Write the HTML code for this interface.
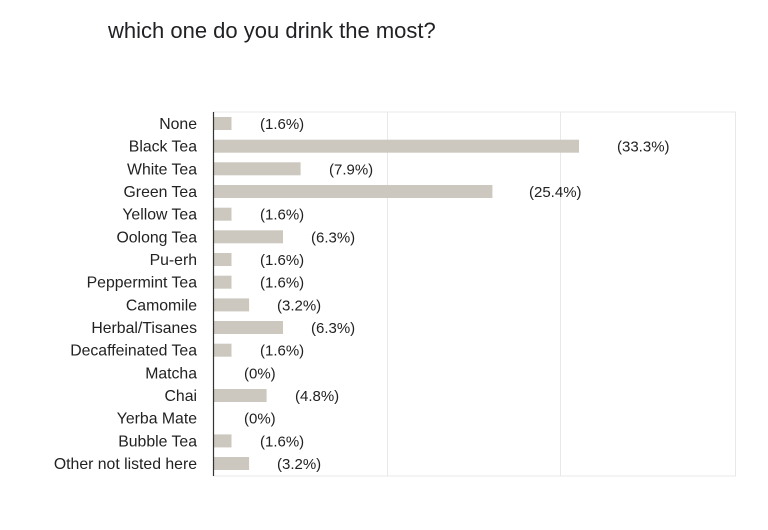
<!DOCTYPE html>
<html><head><meta charset="utf-8"><style>
body{margin:0;background:#fff;width:768px;height:525px;overflow:hidden}
</style></head><body>
<svg width="768" height="525" xmlns="http://www.w3.org/2000/svg" font-family="Liberation Sans, sans-serif">
<text x="108" y="38" font-size="22" fill="#202124">which one do you drink the most?</text>
<g stroke="#e8e8e8" stroke-width="1">
<line x1="387.5" y1="112" x2="387.5" y2="476"/>
<line x1="560.5" y1="112" x2="560.5" y2="476"/>
<line x1="735.5" y1="112" x2="735.5" y2="476"/>
<line x1="213" y1="112" x2="736" y2="112"/>
<line x1="213" y1="476" x2="736" y2="476"/>
</g>
<g fill="#ccc7bf">
<rect x="214" y="117" width="17.5" height="13"/>
<rect x="214" y="139.7" width="365" height="13"/>
<rect x="214" y="162.3" width="86.6" height="13"/>
<rect x="214" y="185" width="278.4" height="13"/>
<rect x="214" y="207.7" width="17.5" height="13"/>
<rect x="214" y="230.3" width="69" height="13"/>
<rect x="214" y="253" width="17.5" height="13"/>
<rect x="214" y="275.7" width="17.5" height="13"/>
<rect x="214" y="298.4" width="35.1" height="13"/>
<rect x="214" y="321" width="69" height="13"/>
<rect x="214" y="343.7" width="17.5" height="13"/>
<rect x="214" y="389" width="52.6" height="13"/>
<rect x="214" y="434.4" width="17.5" height="13"/>
<rect x="214" y="457" width="35.1" height="13"/>
</g>
<g font-size="15.8" fill="#222" text-anchor="end">
<text x="197" y="129">None</text>
<text x="197" y="151.7">Black Tea</text>
<text x="197" y="174.3">White Tea</text>
<text x="197" y="197">Green Tea</text>
<text x="197" y="219.7">Yellow Tea</text>
<text x="197" y="242.3">Oolong Tea</text>
<text x="197" y="265">Pu-erh</text>
<text x="197" y="287.7">Peppermint Tea</text>
<text x="197" y="310.4">Camomile</text>
<text x="197" y="333">Herbal/Tisanes</text>
<text x="197" y="355.7">Decaffeinated Tea</text>
<text x="197" y="378.4">Matcha</text>
<text x="197" y="401">Chai</text>
<text x="197" y="423.7">Yerba Mate</text>
<text x="197" y="446.4">Bubble Tea</text>
<text x="197" y="469">Other not listed here</text>
</g>
<g font-size="15" fill="#222">
<text x="260" y="129">(1.6%)</text>
<text x="617" y="151.7">(33.3%)</text>
<text x="329" y="174.3">(7.9%)</text>
<text x="529" y="197">(25.4%)</text>
<text x="260" y="219.7">(1.6%)</text>
<text x="311" y="242.3">(6.3%)</text>
<text x="260" y="265">(1.6%)</text>
<text x="260" y="287.7">(1.6%)</text>
<text x="277" y="310.4">(3.2%)</text>
<text x="311" y="333">(6.3%)</text>
<text x="260" y="355.7">(1.6%)</text>
<text x="244" y="378.4">(0%)</text>
<text x="295" y="401">(4.8%)</text>
<text x="244" y="423.7">(0%)</text>
<text x="260" y="446.4">(1.6%)</text>
<text x="277" y="469">(3.2%)</text>
</g>
<line x1="213.5" y1="112" x2="213.5" y2="476" stroke="#333" stroke-width="1.2"/>
</svg>
</body></html>
